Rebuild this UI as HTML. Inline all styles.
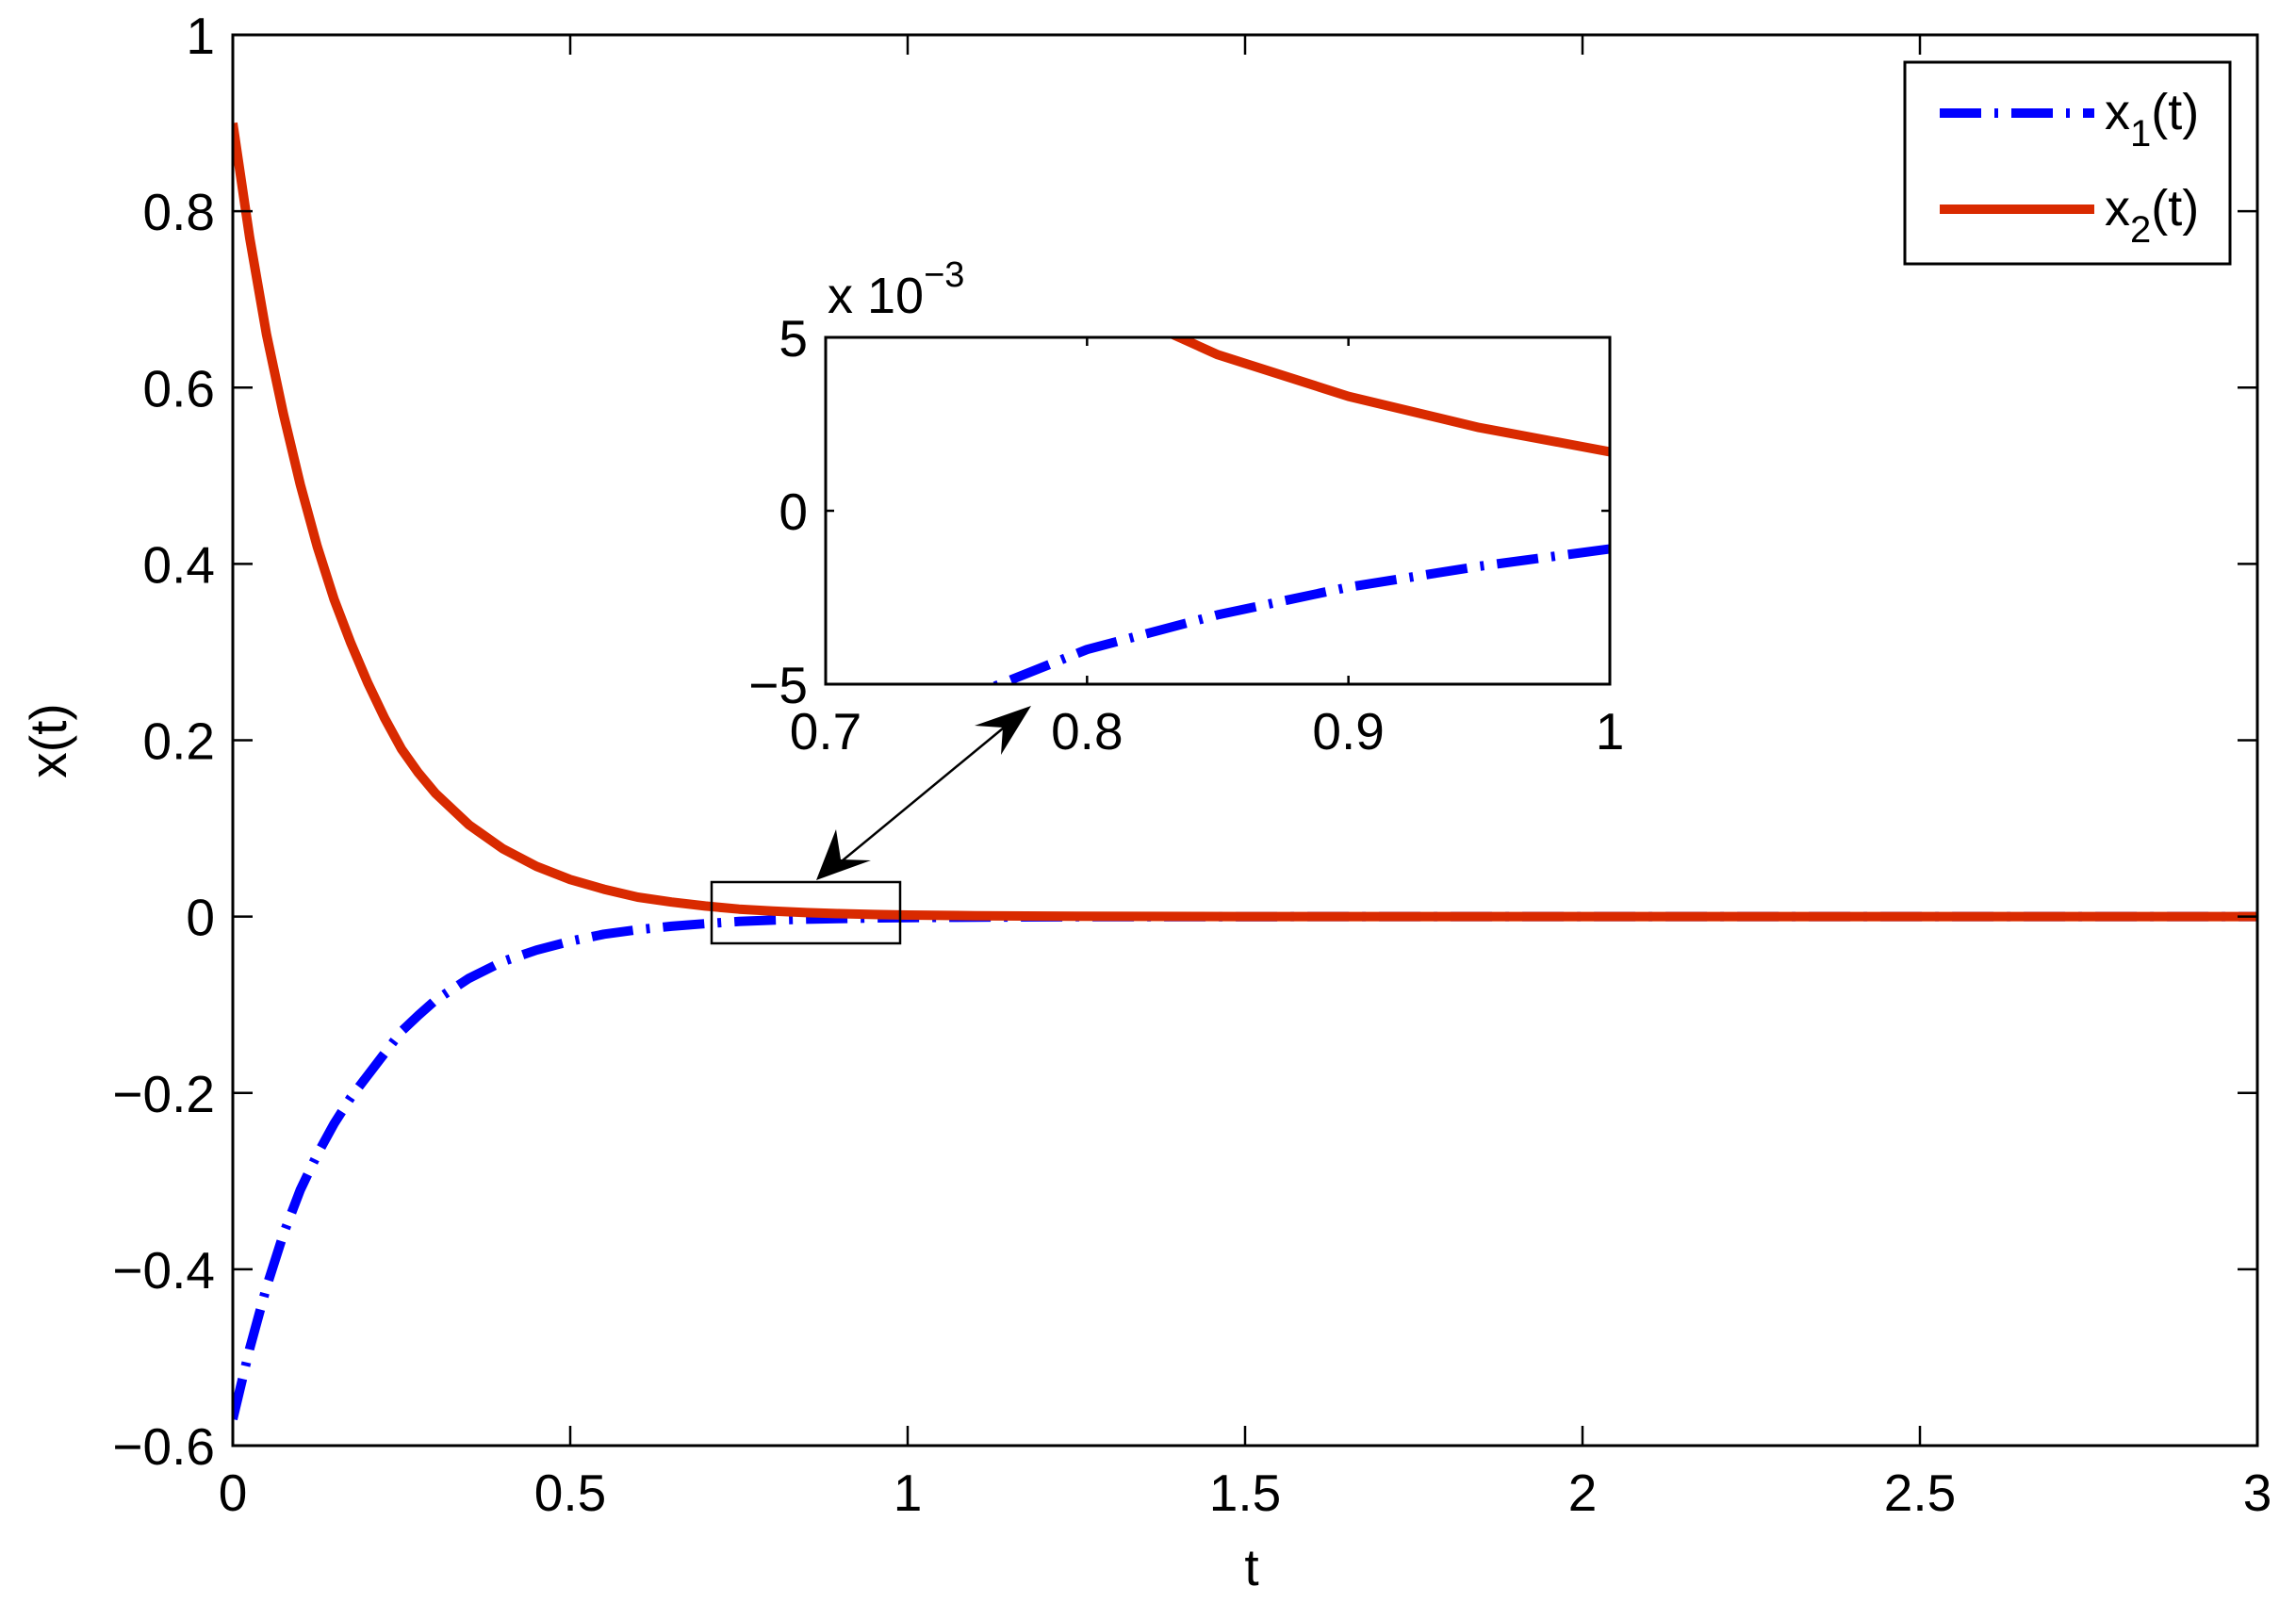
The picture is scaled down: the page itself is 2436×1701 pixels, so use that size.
<!DOCTYPE html>
<html><head><meta charset="utf-8"><style>
html,body{margin:0;padding:0;background:#fff;overflow:hidden;width:2436px;height:1701px;}
svg{display:block;font-family:"Liberation Sans",Arial,sans-serif;}
</style></head><body>
<svg id="chart" width="2436" height="1701" viewBox="0 0 2436 1701" xmlns="http://www.w3.org/2000/svg">
<defs>
<clipPath id="mainClip"><rect x="247" y="37" width="2148" height="1497"/></clipPath>
<clipPath id="insetClip"><rect x="876" y="358" width="832" height="368"/></clipPath>
</defs>
<rect width="2436" height="1701" fill="#fff"/>
<g id="main"></g>
<g id="inset"></g>
<g>
<rect x="2021" y="66" width="345" height="214" fill="#fff" stroke="#000" stroke-width="3"/>
<line x1="2058" y1="120" x2="2222" y2="120" stroke="#0000ff" stroke-width="10" stroke-dasharray="44,14,4,14"/>
<text x="2233" y="137" font-size="54">x<tspan font-size="40" dy="18">1</tspan><tspan dy="-18">(t)</tspan></text>
<line x1="2058" y1="222" x2="2222" y2="222" stroke="#d92a00" stroke-width="10"/>
<text x="2233" y="239" font-size="54">x<tspan font-size="40" dy="18">2</tspan><tspan dy="-18">(t)</tspan></text>
</g>
<text x="1328" y="1682" font-size="55" text-anchor="middle">t</text>
<text transform="translate(70,786) rotate(-90)" font-size="55" text-anchor="middle">x(t)</text>
<rect x="755" y="936" width="200" height="65" fill="none" stroke="#000" stroke-width="2.5"/>
<g>
<line x1="888" y1="918" x2="1070" y2="768" stroke="#000" stroke-width="2.5"/>
<polygon points="866,934 887,880 892,912 924,913" fill="#000"/>
<polygon points="1094,749 1062,801 1064,772 1034,770" fill="#000"/>
</g>
<text x="878" y="332" font-size="54">x 10<tspan font-size="38" dy="-28">−3</tspan></text>
</svg>
<script>
const tVals = [0,0.025,0.05,0.075,0.1,0.125,0.15,0.175,0.2,0.225,0.25,0.275,0.3,0.35,0.4,0.45,0.5,0.55,0.6,0.65,0.7,0.75,0.8,0.85,0.9,0.95,1.0,1.1,1.25,1.5,2.0,2.5,3.0];
const x1Vals = [-0.57,-0.49,-0.42,-0.36,-0.31,-0.27,-0.235,-0.205,-0.18,-0.155,-0.13,-0.112,-0.095,-0.07,-0.051,-0.038,-0.028,-0.02,-0.0148,-0.011,-0.008,-0.0055,-0.004,-0.003,-0.0022,-0.0016,-0.0011,-0.0006,-0.0002,-0.00005,0,0,0];
const x2Vals = [0.9,0.77,0.66,0.57,0.49,0.42,0.36,0.31,0.265,0.225,0.19,0.163,0.14,0.104,0.077,0.057,0.042,0.031,0.022,0.0165,0.012,0.0085,0.0062,0.0045,0.0033,0.0024,0.0017,0.001,0.0003,0.00007,0,0,0];
const xTicks = [0,0.5,1,1.5,2,2.5,3];
const xTickLabels = ["0","0.5","1","1.5","2","2.5","3"];
const yTicks = [-0.6,-0.4,-0.2,0,0.2,0.4,0.6,0.8,1];
const yTickLabels = ["−0.6","−0.4","−0.2","0","0.2","0.4","0.6","0.8","1"];
const insetXTicks = [0.7,0.8,0.9,1];
const insetXTickLabels = ["0.7","0.8","0.9","1"];
const insetYTicks = [-0.005,0,0.005];
const insetYTickLabels = ["−5","0","5"];

const NS="http://www.w3.org/2000/svg";
function mk(tag,attrs,parent){const e=document.createElementNS(NS,tag);for(const k in attrs)e.setAttribute(k,attrs[k]);parent.appendChild(e);return e;}

function drawAxes(g,box,xr,yr,xt,xl,yt,yl,tickLen,clipId,lw,labelGap){
  const sx=v=>box.l+(v-xr[0])/(xr[1]-xr[0])*(box.r-box.l);
  const sy=v=>box.b-(v-yr[0])/(yr[1]-yr[0])*(box.b-box.t);
  mk('rect',{x:box.l,y:box.t,width:box.r-box.l,height:box.b-box.t,fill:'#fff'},g);
  const series=[[x1Vals,'#0000ff','44,14,4,14','series-x1'],[x2Vals,'#d92a00',null,'series-x2']];
  const lg=mk('g',{'clip-path':'url(#'+clipId+')'},g);
  series.forEach(s=>{
    const d=tVals.map((t,i)=>(i?'L':'M')+sx(t).toFixed(1)+','+sy(s[0][i]).toFixed(1)).join(' ');
    const p=mk('path',{d:d,fill:'none',stroke:s[1],'stroke-width':lw,'stroke-linejoin':'round'},lg);
    if(s[2])p.setAttribute('stroke-dasharray',s[2]);
    
    
  });
  xt.forEach((v,i)=>{
    const x=sx(v);
    mk('line',{x1:x,y1:box.b,x2:x,y2:box.b-tickLen,stroke:'#000','stroke-width':2.5},g);
    mk('line',{x1:x,y1:box.t,x2:x,y2:box.t+tickLen,stroke:'#000','stroke-width':2.5},g);
    const tx=mk('text',{x:x,y:box.b+labelGap,'font-size':55,'text-anchor':'middle'},g);
    tx.textContent=xl[i];
    
    
  });
  yt.forEach((v,i)=>{
    const y=sy(v);
    mk('line',{x1:box.l,y1:y,x2:box.l+tickLen,y2:y,stroke:'#000','stroke-width':2.5},g);
    mk('line',{x1:box.r,y1:y,x2:box.r-tickLen,y2:y,stroke:'#000','stroke-width':2.5},g);
    const tx=mk('text',{x:box.l-19,y:y+20,'font-size':55,'text-anchor':'end'},g);
    tx.textContent=yl[i];
    
    
  });
  mk('rect',{x:box.l,y:box.t,width:box.r-box.l,height:box.b-box.t,fill:'none',stroke:'#000','stroke-width':3},g);
}
drawAxes(document.getElementById('main'),{l:247,r:2395,t:37,b:1534},[0,3],[-0.6,1],xTicks,xTickLabels,yTicks,yTickLabels,21,'mainClip',10,69);
drawAxes(document.getElementById('inset'),{l:876,r:1708,t:358,b:726},[0.7,1],[-0.005,0.005],insetXTicks,insetXTickLabels,insetYTicks,insetYTickLabels,9,'insetClip',10,69);
</script>
</body></html>
